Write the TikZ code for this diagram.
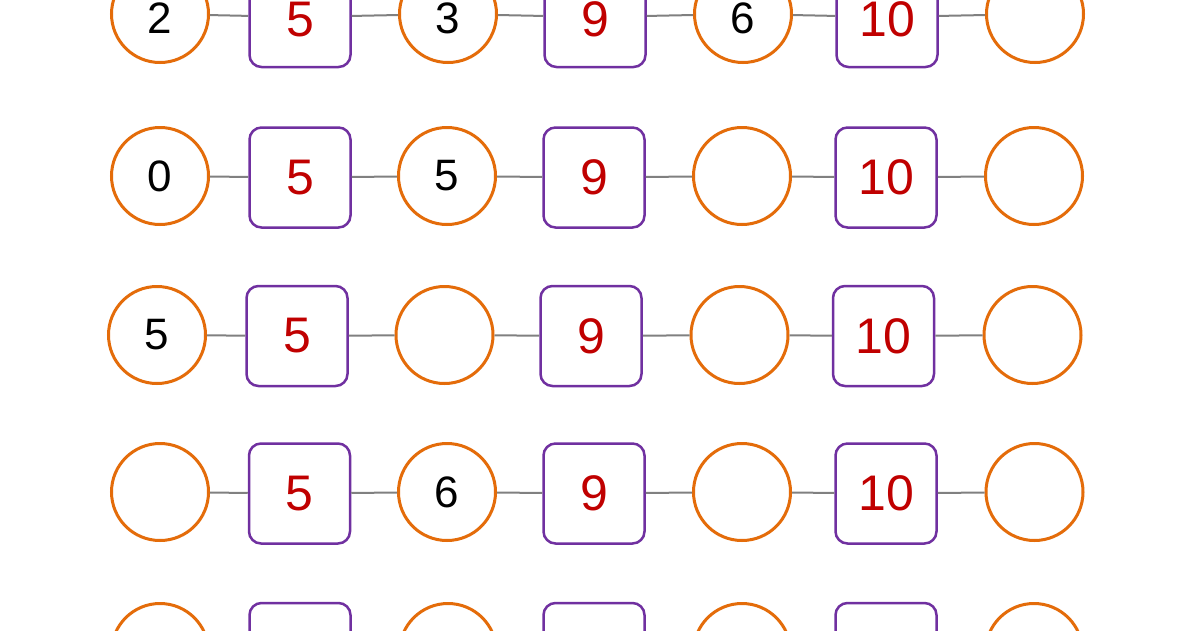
\documentclass[tikz,border=0pt]{standalone}
\usepackage{fontspec}
\setmainfont{Liberation Sans}
\definecolor{cOrange}{HTML}{E46C0A}
\definecolor{cPurple}{HTML}{7030A0}
\definecolor{cRed}{HTML}{C00000}
\definecolor{cGray}{HTML}{808080}
\tikzset{
  ball/.style={circle, draw=cOrange, line width=3pt, fill=white, minimum size=97pt, inner sep=0pt,
    font=\fontsize{44}{44}\selectfont, text=black},
  tile/.style={rectangle, rounded corners=12pt, draw=cPurple, line width=2.5pt, fill=white,
    minimum width=101pt, minimum height=100pt, inner sep=0pt,
    font=\fontsize{50}{50}\selectfont, text=cRed},
  lowball/.style={text height=39.5pt, text depth=0pt},
  lowtile/.style={text height=39.8pt, text depth=0pt},
  link/.style={draw=cGray, line width=2pt}
}
\begin{document}
\begin{tikzpicture}[x=1pt,y=-1pt]
\fill[white] (0,0) rectangle (1200,630);
\useasboundingbox (0,0) rectangle (1200,630);
% row 1
\node[ball,lowball] (a1) at (160,14) {2};
\node[tile,lowtile] (a2) at (300,17) {5};
\node[ball,lowball] (a3) at (448,14) {3};
\node[tile,lowtile] (a4) at (595,17) {9};
\node[ball,lowball] (a5) at (743,14) {6};
\node[tile,lowtile] (a6) at (887,17) {10};
\node[ball] (a7) at (1035,14) {};
% row 2
\node[ball] (b1) at (160,176) {0};
\node[tile] (b2) at (300,177.5) {5};
\node[ball] (b3) at (447,176) {5};
\node[tile] (b4) at (594,177.5) {9};
\node[ball] (b5) at (742,176) {};
\node[tile] (b6) at (886,177.5) {10};
\node[ball] (b7) at (1034,176) {};
% row 3
\node[ball] (c1) at (157,335) {5};
\node[tile] (c2) at (297,336) {5};
\node[ball] (c3) at (444.5,335) {};
\node[tile] (c4) at (591,336) {9};
\node[ball] (c5) at (739.5,335) {};
\node[tile] (c6) at (883.5,336) {10};
\node[ball] (c7) at (1032.5,335) {};
% row 4
\node[ball] (d1) at (160,492) {};
\node[tile] (d2) at (299.5,493.5) {5};
\node[ball] (d3) at (447,492) {6};
\node[tile] (d4) at (594,493.5) {9};
\node[ball] (d5) at (742,492) {};
\node[tile] (d6) at (886,493.5) {10};
\node[ball] (d7) at (1034.5,492) {};
% row 5
\node[ball] (e1) at (160,652) {};
\node[tile] (e2) at (300,653) {};
\node[ball] (e3) at (448,652) {};
\node[tile] (e4) at (594,653) {};
\node[ball] (e5) at (742,652) {};
\node[tile] (e6) at (886,653) {};
\node[ball] (e7) at (1034,652) {};
% connectors
\foreach \r in {a,b,c,d}{
  \draw[link] (\r1) -- (\r2);
  \draw[link] (\r2) -- (\r3);
  \draw[link] (\r3) -- (\r4);
  \draw[link] (\r4) -- (\r5);
  \draw[link] (\r5) -- (\r6);
  \draw[link] (\r6) -- (\r7);
}
\end{tikzpicture}
\end{document}
